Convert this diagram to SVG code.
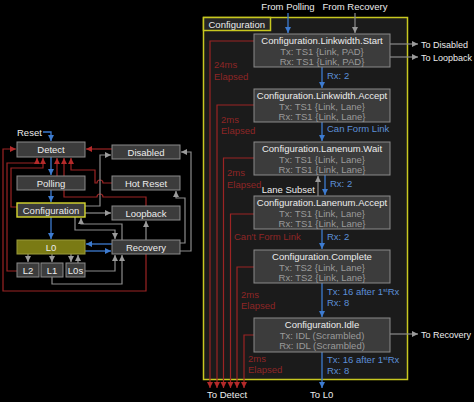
<svg xmlns="http://www.w3.org/2000/svg" width="474" height="402" viewBox="0 0 474 402">
<defs>
<marker id="ab" markerUnits="userSpaceOnUse" markerWidth="7" markerHeight="7" refX="6" refY="3.5" orient="auto"><path d="M0,0.5 L6,3.5 L0,6.5z" fill="#3d7bd0"/></marker>
<marker id="ag" markerUnits="userSpaceOnUse" markerWidth="7" markerHeight="7" refX="6" refY="3.5" orient="auto"><path d="M0,0.5 L6,3.5 L0,6.5z" fill="#9a9a9a"/></marker>
<marker id="ar" markerUnits="userSpaceOnUse" markerWidth="7" markerHeight="7" refX="6" refY="3.5" orient="auto"><path d="M0,0.5 L6,3.5 L0,6.5z" fill="#b42a2a"/></marker>
</defs>
<style>
.bx{fill:#3c3c3c;stroke:#8a8a8a;stroke-width:1}
.t{font-family:"Liberation Sans",Arial,sans-serif;font-size:9.5px;fill:#ececec}
.o{font-size:9px}
.c{text-anchor:middle}
.e{text-anchor:end}
.s{fill:#9a9a9a}
.lb{fill:#5b8fd8}
.lr{fill:#8e2626}
.cb{fill:none;stroke:#3d7bd0;stroke-width:1.3;marker-end:url(#ab)}
.cg{fill:none;stroke:#8c8c8c;stroke-width:1.2;marker-end:url(#ag)}
.cr{fill:none;stroke:#9c2424;stroke-width:1.2;marker-end:url(#ar)}
</style>
<rect x="0" y="0" width="474" height="402" fill="#000"/>

<g id="panel">
<rect x="203.5" y="17.5" width="204" height="362" fill="#1b1b1b" stroke="#c8c820" stroke-width="1.5"/>
<rect x="203.5" y="17.5" width="67" height="13" fill="#262626" stroke="#c8c820" stroke-width="1.5"/>
<text class="t" x="208.5" y="28">Configuration</text>
</g>

<g id="connectors">
<path class="cr" d="M112,149 H86"/>
<path class="cr" d="M57,176 V158"/>
<path class="cr" d="M17,271 H7 V163 H37 V158"/>
<path class="cr" d="M17,207 H11 V168 H43 V158"/>
<path class="cr" d="M112,183 H103 a3,3 0 0 0 -6,0 H95 V170 H71 V158"/>
<path class="cr" d="M146,206 V197 H103 a3,3 0 0 0 -6,0 H64 V158"/>
<path class="cr" d="M146,254 V291 H3 V149 H16"/>
<path class="cb" d="M43,132 H51 V141"/>
<path class="cb" d="M51,157 V175"/>
<path class="cb" d="M51,190 V202"/>
<path class="cb" d="M51,217 V239"/>
<path class="cb" d="M112,244 H86"/>
<path class="cb" d="M85,251 H111"/>
<path class="cg" d="M85,206 H100 V155 H111"/>
<path class="cg" d="M85,213 H111"/>
<path class="cg" d="M75,217 V230 H115 V239"/>
<path class="cg" d="M122,240 V224 H81 V218"/>
<path class="cg" d="M146,240 V221"/>
<path class="cg" d="M180,243 H185 V198 H176 V191"/>
<path class="cg" d="M180,251 H191 V152 H181"/>
<path class="cg" d="M28,254 V262"/>
<path class="cg" d="M52,254 V262"/>
<path class="cg" d="M71,254 V262"/>
<path class="cg" d="M78,263 V255"/>
<path class="cg" d="M52,277 V284 H122 V255"/>
<path class="cg" d="M85,271 H115 V255"/>

<path class="cb" d="M288,13 V33"/>
<path class="cg" d="M355,13 V33"/>
<path class="cb" d="M322,67 V88"/>
<path class="cb" d="M322,122 V141"/>
<path class="cb" d="M325,175 V195"/>
<path class="cg" d="M318,196 V176"/>
<path class="cb" d="M322,229 V249"/>
<path class="cb" d="M322,283 V317"/>
<path class="cb" d="M322,352 V388"/>
<path class="cg" d="M390,44 H418"/>
<path class="cg" d="M390,57 H418"/>
<path class="cg" d="M390,334 H418"/>
<path class="cr" d="M254,41 H210 V388"/>
<path class="cr" d="M254,105 H217 V388"/>
<path class="cr" d="M254,158 H223.5 V388"/>
<path class="cr" d="M254,214 H230.5 V388"/>
<path class="cr" d="M254,267 H237 V388"/>
<path class="cr" d="M254,335 H244 V388"/>
</g>

<g id="detect"><rect class="bx" x="17" y="142" width="68" height="15"/><text class="t c" x="51" y="153">Detect</text></g>
<g id="polling"><rect class="bx" x="17" y="176" width="68" height="14"/><text class="t c" x="51" y="186.5">Polling</text></g>
<g id="configuration"><rect x="17" y="203" width="68" height="14" fill="#3c3c3c" stroke="#d8d830" stroke-width="1.4"/><text class="t c" x="51" y="213.5">Configuration</text></g>
<g id="l0"><rect x="17" y="240" width="68" height="14" fill="#7a7a14" stroke="#9a9a3a"/><text class="t c" x="51" y="250.5">L0</text></g>
<g id="disabled"><rect class="bx" x="112" y="145" width="68" height="14"/><text class="t c" x="146" y="155.5">Disabled</text></g>
<g id="hotreset"><rect class="bx" x="112" y="176" width="68" height="14"/><text class="t c" x="146" y="186.5">Hot Reset</text></g>
<g id="loopback"><rect class="bx" x="112" y="206" width="68" height="14"/><text class="t c" x="146" y="216.5">Loopback</text></g>
<g id="recovery"><rect class="bx" x="112" y="240" width="68" height="14"/><text class="t c" x="146" y="250.5">Recovery</text></g>
<g id="l2"><rect class="bx" x="17" y="263" width="22" height="14"/><text class="t c" x="28" y="273.5">L2</text></g>
<g id="l1"><rect class="bx" x="41" y="263" width="22" height="14"/><text class="t c" x="52" y="273.5">L1</text></g>
<g id="l0s"><rect class="bx" x="66" y="263" width="19" height="14"/><text class="t c" x="75.5" y="273.5">L0s</text></g>
<g id="reset"><text class="t" x="17" y="135.5">Reset</text></g>

<g id="lw-start"><rect class="bx" x="254" y="34" width="136" height="33"/>
<text class="t c" x="322" y="43.5">Configuration.Linkwidth.Start</text>
<text class="t c s" x="322" y="54.5">Tx: TS1 {Link, PAD}</text>
<text class="t c s" x="322" y="65">Rx: TS1 {Link, PAD}</text></g>
<g id="lw-accept"><rect class="bx" x="254" y="89" width="136" height="33"/>
<text class="t c" x="322" y="98.5">Configuration.Linkwidth.Accept</text>
<text class="t c s" x="322" y="109.5">Tx: TS1 {Link, Lane}</text>
<text class="t c s" x="322" y="120">Rx: TS1 {Link, Lane}</text></g>
<g id="ln-wait"><rect class="bx" x="254" y="142" width="136" height="33"/>
<text class="t c" x="322" y="151.5">Configuration.Lanenum.Wait</text>
<text class="t c s" x="322" y="162.5">Tx: TS1 {Link, Lane}</text>
<text class="t c s" x="322" y="173">Rx: TS1 {Link, Lane}</text></g>
<g id="ln-accept"><rect class="bx" x="254" y="196" width="136" height="33"/>
<text class="t c" x="322" y="205.5">Configuration.Lanenum.Accept</text>
<text class="t c s" x="322" y="216.5">Tx: TS1 {Link, Lane}</text>
<text class="t c s" x="322" y="227">Rx: TS1 {Link, Lane}</text></g>
<g id="complete"><rect class="bx" x="254" y="250" width="136" height="33"/>
<text class="t c" x="322" y="259.5">Configuration.Complete</text>
<text class="t c s" x="322" y="270.5">Tx: TS2 {Link, Lane}</text>
<text class="t c s" x="322" y="281">Rx: TS2 {Link, Lane}</text></g>
<g id="idle"><rect class="bx" x="254" y="318" width="136" height="34"/>
<text class="t c" x="322" y="327.5">Configuration.Idle</text>
<text class="t c s" x="322" y="338.5">Tx: IDL (Scrambled)</text>
<text class="t c s" x="322" y="349">Rx: IDL (Scrambled)</text></g>

<g id="labels">
<text class="t c" x="288" y="10">From Polling</text>
<text class="t c" x="355" y="10">From Recovery</text>
<text class="t o" x="421" y="47.5">To Disabled</text>
<text class="t o" x="421" y="60.5">To Loopback</text>
<text class="t o" x="421" y="337.5">To Recovery</text>
<text class="t" x="207" y="398">To Detect</text>
<text class="t" x="310" y="398">To L0</text>
<text class="t lb" x="327" y="79">Rx: 2</text>
<text class="t lb" x="327" y="131.5">Can Form Link</text>
<text class="t lb" x="330" y="186.5">Rx: 2</text>
<text class="t e" x="315" y="192.5">Lane Subset</text>
<text class="t lb" x="327" y="239.5">Rx: 2</text>
<text class="t lb" x="327" y="294.5">Tx: 16 after 1<tspan font-size="6" dy="-3">st</tspan><tspan dy="3">Rx</tspan></text>
<text class="t lb" x="327" y="305.5">Rx: 8</text>
<text class="t lb" x="327" y="363">Tx: 16 after 1<tspan font-size="6" dy="-3">st</tspan><tspan dy="3">Rx</tspan></text>
<text class="t lb" x="327" y="374">Rx: 8</text>
<text class="t lr" x="214" y="68">24ms</text>
<text class="t lr" x="214" y="80">Elapsed</text>
<text class="t lr" x="221" y="123">2ms</text>
<text class="t lr" x="221" y="134">Elapsed</text>
<text class="t lr" x="227" y="176">2ms</text>
<text class="t lr" x="227" y="188">Elapsed</text>
<text class="t lr" x="234" y="239.5">Can't Form Link</text>
<text class="t lr" x="241" y="298">2ms</text>
<text class="t lr" x="241" y="309">Elapsed</text>
<text class="t lr" x="248" y="362">2ms</text>
<text class="t lr" x="248" y="373">Elapsed</text>
</g>
</svg>
